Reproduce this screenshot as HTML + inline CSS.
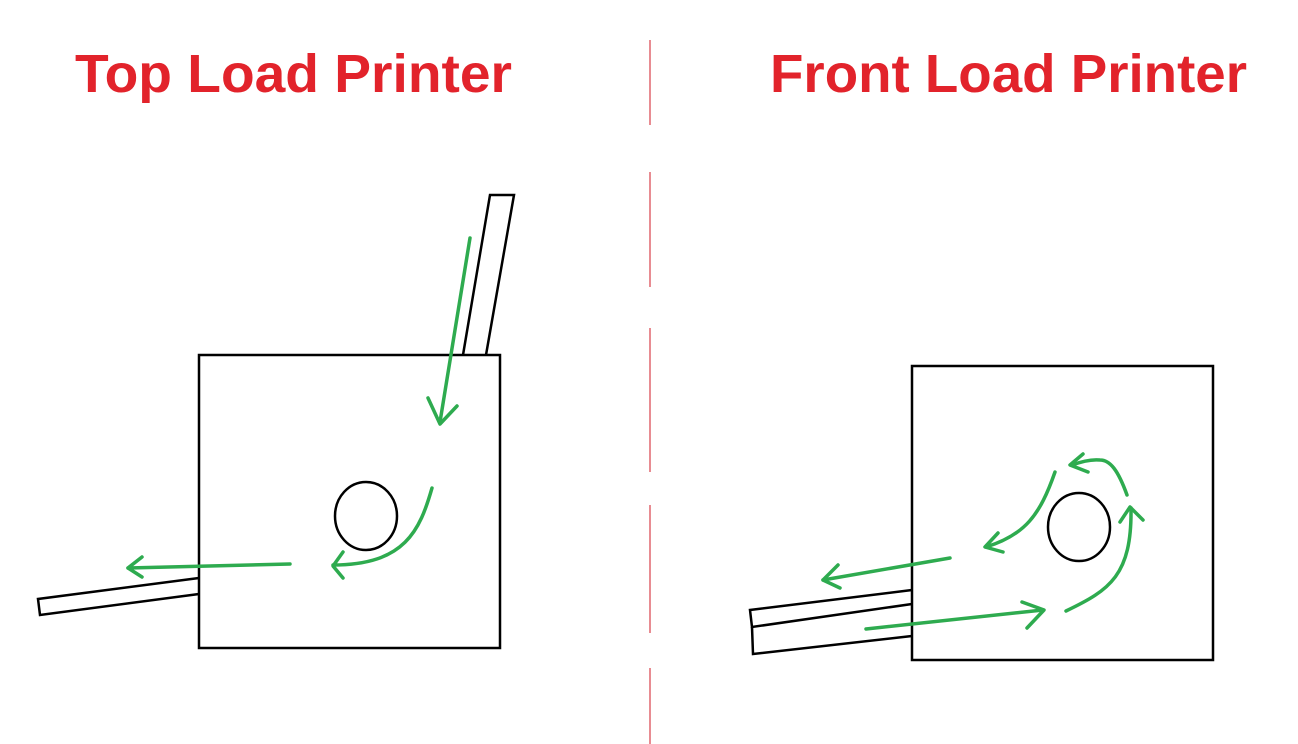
<!DOCTYPE html>
<html><head><style>html,body{margin:0;padding:0;background:#fff;}svg{display:block;}</style></head>
<body>
<svg width="1298" height="744" viewBox="0 0 1298 744" xmlns="http://www.w3.org/2000/svg">
<g font-family="Liberation Sans, sans-serif" font-weight="bold" fill="#e2232b" font-size="54">
<text x="75" y="92" textLength="437" lengthAdjust="spacingAndGlyphs">Top Load Printer</text>
<text x="770" y="92" textLength="477" lengthAdjust="spacingAndGlyphs">Front Load Printer</text>
</g>
<g stroke="#d9404a" stroke-width="1.2">
<line x1="650" y1="40" x2="650" y2="125"/><line x1="650" y1="172" x2="650" y2="287"/>
<line x1="650" y1="328" x2="650" y2="472"/><line x1="650" y1="505" x2="650" y2="633"/>
<line x1="650" y1="668" x2="650" y2="744"/>
</g>
<g fill="none" stroke="#000" stroke-width="2.5">
<rect x="199" y="355" width="301" height="293"/>
<polyline points="463,355 490,195 514,195 486,355"/>
<ellipse cx="366" cy="516" rx="31" ry="34"/>
<polyline points="199,578 38,599 40,615 199,594"/>
<rect x="912" y="366" width="301" height="294"/>
<ellipse cx="1079" cy="527" rx="31" ry="34"/>
<polyline points="912,590 750,610 752,627 912,604"/>
<polyline points="752,627 753,654 912,636"/>
</g>
<g fill="none" stroke="#2eab4f" stroke-width="3.5" stroke-linecap="round" stroke-linejoin="round">
<line x1="470" y1="238" x2="440" y2="422"/><polyline points="428,398 440,424 457,406"/>
<path d="M432,488 C420,530 405,565 333,565"/><polyline points="343,552 333,566 343,578"/>
<line x1="290" y1="564" x2="128" y2="568"/><polyline points="142,557 128,568 142,577"/>
<line x1="950" y1="558" x2="823" y2="580"/><polyline points="838,565 823,580 840,588"/>
<path d="M1055,472 C1040,515 1025,535 986,547"/><polyline points="998,533 985,547 1003,552"/>
<line x1="866" y1="629" x2="1043" y2="610"/><polyline points="1022,602 1044,610 1027,628"/>
<path d="M1066,611 C1110,590 1132,575 1131,508"/><polyline points="1120,522 1130,507 1143,520"/>
<path d="M1127,495 C1118,470 1110,460 1100,460 C1090,459 1080,462 1072,465"/><polyline points="1083,454 1070,465 1088,472"/>
</g>
</svg>
</body></html>
